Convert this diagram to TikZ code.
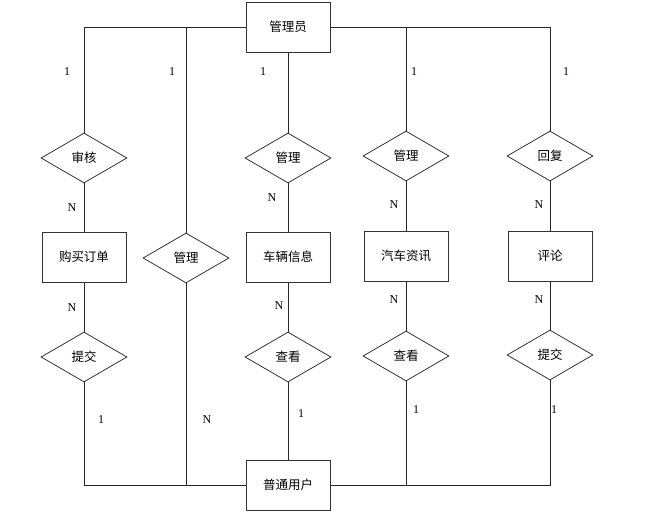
\documentclass[tikz,border=0pt]{standalone}
\usepackage{fontspec}
\setmainfont{Liberation Serif}
\newfontfamily\cjk{Noto Sans CJK SC}
\usetikzlibrary{positioning,shapes.geometric}
\tikzset{
    entity/.style={draw=black!80,line width=1pt,rectangle,minimum width=84pt,minimum height=50pt,inner sep=0pt,font=\cjk\fontsize{12.5}{14}\selectfont},
    relation/.style={draw=black!80,line width=0.8pt,diamond,aspect=1.72,minimum width=86pt,minimum height=50pt,inner sep=0pt,font=\cjk\fontsize{12.5}{14}\selectfont},
    card/.style={inner sep=0pt,font=\fontsize{12}{14}\selectfont},
    link/.style={draw=black!85,line width=0.8pt}
}

\begin{document}
\begin{tikzpicture}[x=1pt,y=-1pt]
    \useasboundingbox (0,0) rectangle (654,512);
    % entities
    \node[entity] (admin)  at (288,27)  {管理员};
    \node[entity] (user)   at (288,485) {普通用户};
    \node[entity] (order)  at (84,257)  {购买订单};
    \node[entity] (car)    at (288,257) {车辆信息};
    \node[entity] (news)   at (406,256) {汽车资讯};
    \node[entity] (review) at (550,256) {评论};
    % relations
    \node[relation] (audit)   at (84,158)  {审核};
    \node[relation] (manuser) at (186,258) {管理};
    \node[relation] (mancar)  at (288,158) {管理};
    \node[relation] (mannews) at (406,156) {管理};
    \node[relation] (reply)   at (550,156) {回复};
    \node[relation] (submitA) at (84,357)  {提交};
    \node[relation] (viewcar) at (288,357) {查看};
    \node[relation] (viewnew) at (406,356) {查看};
    \node[relation] (submitB) at (550,355) {提交};
    % connectors
    \path[link]
        (admin.west) -| (audit.north)
        (admin.west) -| (manuser.north)
        (admin.south) -- (mancar.north)
        (admin.east) -| (mannews.north)
        (admin.east) -| (reply.north)
        (audit.south) -- (order.north)
        (mancar.south) -- (car.north)
        (mannews.south) -- (news.north)
        (reply.south) -- (review.north)
        (order.south) -- (submitA.north)
        (car.south) -- (viewcar.north)
        (news.south) -- (viewnew.north)
        (review.south) -- (submitB.north)
        (submitA.south) |- (user.west)
        (manuser.south) |- (user.west)
        (viewcar.south) -- (user.north)
        (viewnew.south) |- (user.east)
        (submitB.south) |- (user.east)
    ;
    % cardinalities
    \node[card] (c1) at (67,72)   {1};
    \node[card] (c2) at (172,72)  {1};
    \node[card] (c3) at (263,72)  {1};
    \node[card] (c4) at (414,72)  {1};
    \node[card] (c5) at (566,72)  {1};
    \node[card] (n1) at (72,208)  {N};
    \node[card] (n2) at (272,198) {N};
    \node[card] (n3) at (394,205) {N};
    \node[card] (n4) at (539,205) {N};
    \node[card] (n5) at (72,308)  {N};
    \node[card] (n6) at (279,306) {N};
    \node[card] (n7) at (394,300) {N};
    \node[card] (n8) at (539,300) {N};
    \node[card] (c6) at (101,420) {1};
    \node[card] (n9) at (207,420) {N};
    \node[card] (c7) at (301,414) {1};
    \node[card] (c8) at (416,410) {1};
    \node[card] (c9) at (554,410) {1};
\end{tikzpicture}
\end{document}
